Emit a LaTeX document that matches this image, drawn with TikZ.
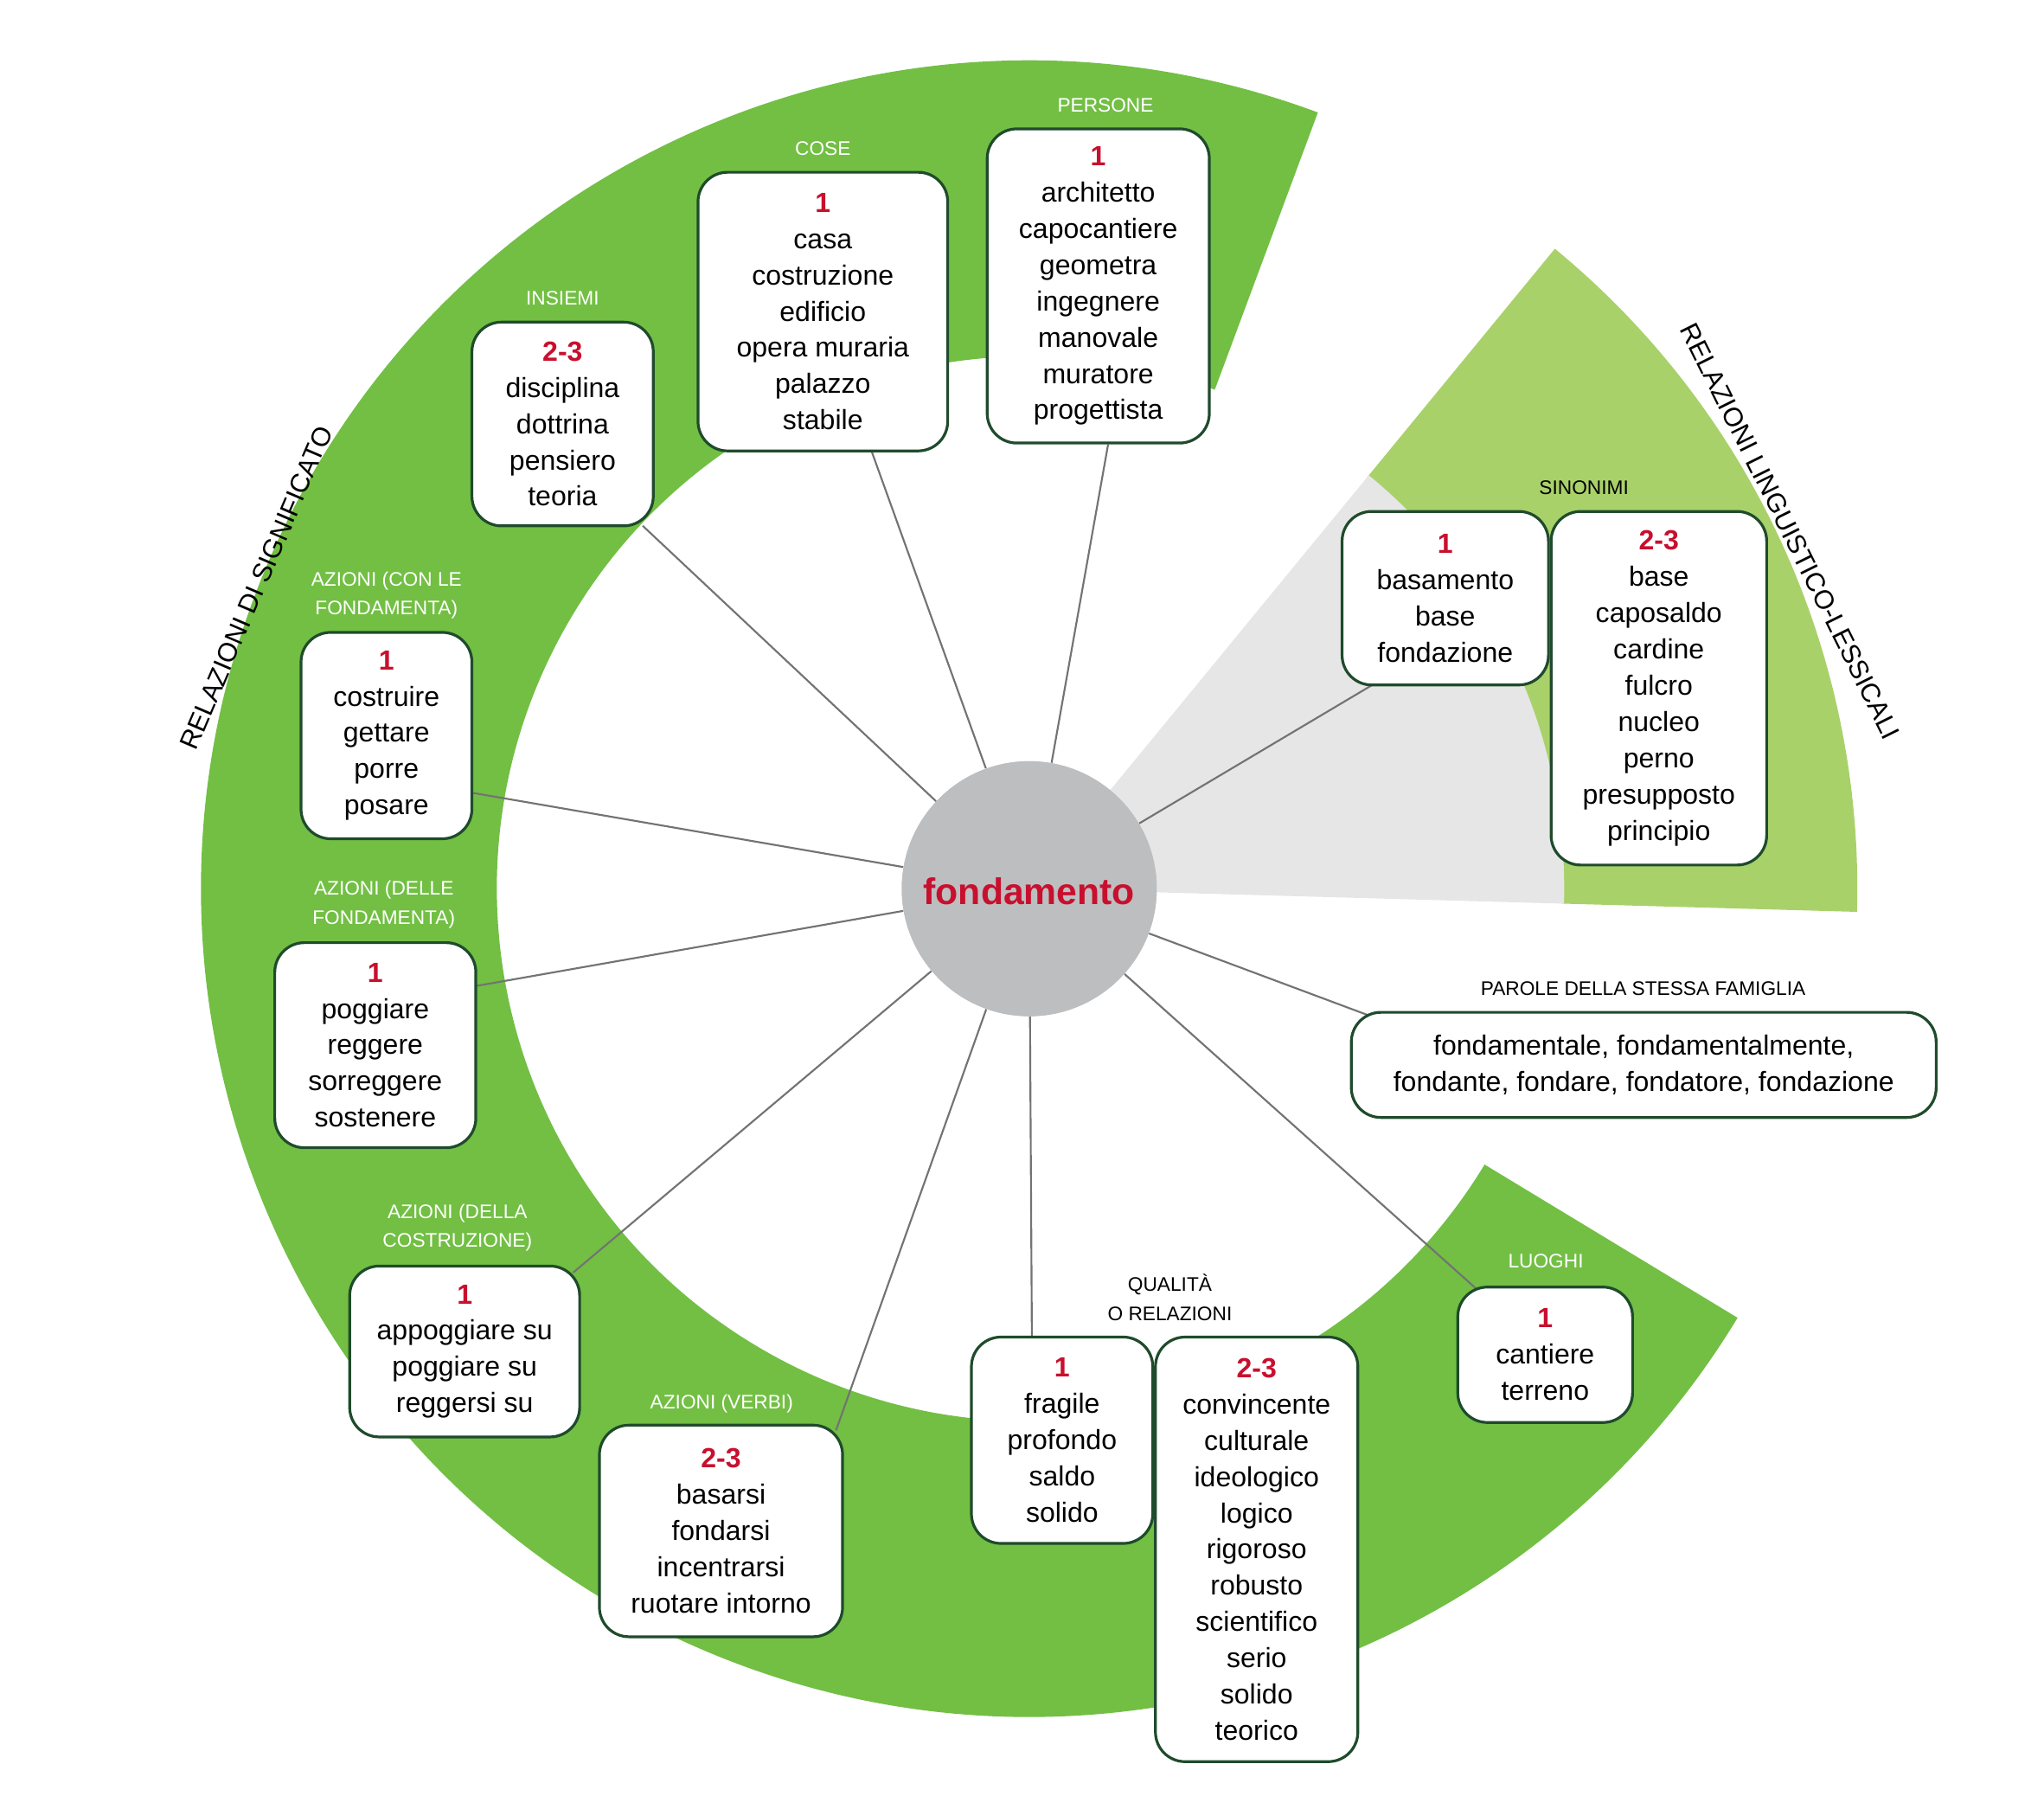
\documentclass[tikz,border=0pt]{standalone}
\usepackage{fontspec}
\setmainfont{Liberation Sans}
\begin{document}
\definecolor{gr}{HTML}{72BF44}
\definecolor{lgr}{HTML}{A9D16A}
\definecolor{gry}{HTML}{E6E6E6}
\definecolor{cgr}{HTML}{BDBEC0}
\definecolor{bc}{HTML}{1F4B2C}
\definecolor{nr}{HTML}{C8102E}
\newcommand{\nm}[1]{\textcolor{nr}{\textbf{#1}}}
\begin{tikzpicture}[x=0.02cm,y=-0.02cm,
 box/.style={draw=bc,line width=1.2pt,fill=white,rounded corners=0.45cm,inner sep=0pt,outer sep=0pt,align=center,font=\fontsize{12}{15.7}\selectfont},
 lab/.style={text=white,align=center,font=\fontsize{8.5}{12.5}\selectfont},
 ttl/.style={font=\fontsize{11.5}{14}\selectfont,inner sep=1pt},
 conn/.style={draw=gray!90!black,line width=0.8pt}]
\useasboundingbox (0,0) rectangle (1555,1376);
\begin{scope}[shift={(783,676)}]
\fill[gr] (-69.6:630) arc[start angle=-69.6,end angle=-328.8,radius=630] -- (-328.8:405) arc[start angle=-328.8,end angle=-69.6,radius=405] -- cycle;
\fill[lgr] (1.6:630) arc[start angle=1.6,end angle=-50.6,radius=630] -- (-50.6:405) arc[start angle=-50.6,end angle=1.6,radius=405] -- cycle;
\fill[gry] (0,0) -- (1.6:407) arc[start angle=1.6,end angle=-50.6,radius=407] -- cycle;
\end{scope}
\node[circle,fill=cgr,minimum size=3.88cm,inner sep=0pt] (c) at (783,676) {};
\coordinate (e1) at (843,338); \coordinate (e2) at (663,343); \coordinate (e3) at (489,400);
\coordinate (e4) at (359,603); \coordinate (e5) at (362,750); \coordinate (e6) at (436,968);
\coordinate (e7) at (636,1088); \coordinate (e8) at (785,1016); \coordinate (e9) at (1125,982);
\coordinate (e10) at (1043,773); \coordinate (e11) at (1044,521);
\foreach \e in {e1,e2,e3,e4,e5,e6,e7,e8,e9,e10,e11} \draw[conn] (c) -- (\e);
\node[circle,fill=cgr,minimum size=3.88cm,inner sep=0pt] at (783,676) {};
\node[text=nr,font=\fontsize{16}{18}\selectfont\bfseries] at (783,678) {fondamento};
\node[box,minimum width=3.38cm,minimum height=4.78cm] (pers) at (835.5,217.5) {\nm{1}\\architetto\\capocantiere\\geometra\\ingegnere\\manovale\\muratore\\progettista};
\node[box,minimum width=3.8cm,minimum height=4.24cm] (cose) at (626,237) {\nm{1}\\casa\\costruzione\\edificio\\opera muraria\\palazzo\\stabile};
\node[box,minimum width=2.76cm,minimum height=3.1cm] (ins) at (428,322.5) {\nm{2-3}\\disciplina\\dottrina\\pensiero\\teoria};
\node[box,minimum width=2.6cm,minimum height=3.14cm] (conle) at (294,559.5) {\nm{1}\\costruire\\gettare\\porre\\posare};
\node[box,minimum width=3.06cm,minimum height=3.12cm] (delle) at (285.5,795) {\nm{1}\\poggiare\\reggere\\sorreggere\\sostenere};
\node[box,minimum width=3.5cm,minimum height=2.6cm] (costr) at (353.5,1028) {\nm{1}\\appoggiare su\\poggiare su\\reggersi su};
\node[box,minimum width=3.7cm,minimum height=3.22cm] (verbi) at (548.5,1164.5) {\nm{2-3}\\basarsi\\fondarsi\\incentrarsi\\ruotare intorno};
\node[box,minimum width=2.76cm,minimum height=3.14cm] (q1) at (808,1095.5) {\nm{1}\\fragile\\profondo\\saldo\\solido};
\node[box,minimum width=3.08cm,minimum height=6.46cm] (q2) at (956,1178.5) {\nm{2-3}\\convincente\\culturale\\ideologico\\logico\\rigoroso\\robusto\\scientifico\\serio\\solido\\teorico};
\node[box,minimum width=2.66cm,minimum height=2.06cm] (luo) at (1175.5,1030.5) {\nm{1}\\cantiere\\terreno};
\node[box,minimum width=8.9cm,minimum height=1.6cm] (par) at (1250.5,810) {fondamentale, fondamentalmente,\\fondante, fondare, fondatore, fondazione};
\node[box,minimum width=3.14cm,minimum height=2.64cm] (s1) at (1099.5,455) {\nm{1}\\basamento\\base\\fondazione};
\node[box,minimum width=3.28cm,minimum height=5.38cm] (s2) at (1262,523.5) {\nm{2-3}\\base\\caposaldo\\cardine\\fulcro\\nucleo\\perno\\presupposto\\principio};
\node[lab] at (841,80) {PERSONE};
\node[lab] at (626,113) {COSE};
\node[lab] at (428,227) {INSIEMI};
\node[lab] at (294,453) {AZIONI (CON LE\\FONDAMENTA)};
\node[lab] at (292,688) {AZIONI (DELLE\\FONDAMENTA)};
\node[lab] at (348,934) {AZIONI (DELLA\\COSTRUZIONE)};
\node[lab] at (549,1068) {AZIONI (VERBI)};
\node[lab,text=black] at (890,987) {QUALITÀ\\O RELAZIONI};
\node[lab] at (1176,959) {LUOGHI};
\node[lab,text=black] at (1250,752) {PAROLE DELLA STESSA FAMIGLIA};
\node[lab,text=black] at (1205,371) {SINONIMI};
\node[ttl,rotate=66.8] at (195,447) {RELAZIONI DI SIGNIFICATO};
\node[ttl,rotate=-63.6] at (1362,404) {RELAZIONI LINGUISTICO-LESSICALI};
\end{tikzpicture}
\end{document}
